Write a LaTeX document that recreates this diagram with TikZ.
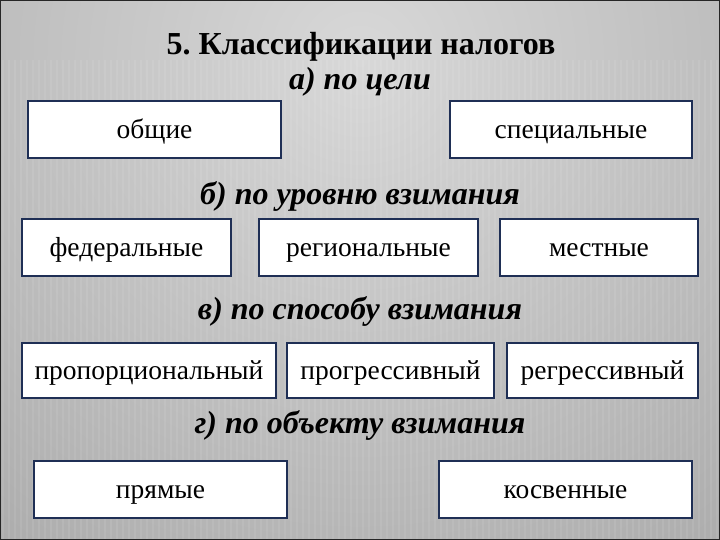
\documentclass[tikz,border=0pt]{standalone}
\usepackage{fontspec}
\setmainfont{Liberation Serif}
\frenchspacing
\definecolor{boxline}{HTML}{1F2F55}
\definecolor{bglight}{HTML}{D8D8D8}
\definecolor{bgdark}{HTML}{AAAAAA}
\tikzset{
  kind/.style={draw=boxline, line width=1.6pt, fill=white,
    font=\fontsize{27.5}{30}\selectfont, text height=18pt, text depth=0pt,
    inner sep=0pt},
  criterion/.style={font=\bfseries\itshape\fontsize{32}{34}\selectfont, anchor=base},
}
\begin{document}
\begin{tikzpicture}[x=1pt, y=-1pt]
    % background
    \begin{scope}
      \clip (0,0) rectangle (720,540);
      \shade[inner color=bglight, outer color=bgdark] (360,60) circle (640);
      \foreach \x in {3,9,...,720}
        \draw[white, opacity=0.08, line width=1.5pt] (\x,60) -- (\x,540);
    \end{scope}
    \draw[gray!30!black, line width=1.2pt] (0.6,0.6) rectangle (719.4,539.4);
    \useasboundingbox (0,0) rectangle (720,540);

    \node [font=\bfseries\fontsize{32}{34}\selectfont, anchor=base] (title) at (361,55) {5. Классификации налогов};
    \node [criterion] (goal) at (360,90) {а) по цели};

    \node [kind, minimum width=253pt, minimum height=57pt] (general) at (154.5,129.5) {общие};
    \node [kind, minimum width=242pt, minimum height=57pt] (special) at (571,129.5) {специальные};

    \node [criterion] (level) at (360,205) {б) по уровню взимания};

    \node [kind, minimum width=209pt, minimum height=57pt] (federal) at (126.5,247.5) {федеральные};
    \node [kind, minimum width=219pt, minimum height=57pt] (regional) at (368.5,247.5) {региональные};
    \node [kind, minimum width=198pt, minimum height=57pt] (local) at (599,247.5) {местные};

    \node [criterion] (method) at (360,319) {в) по способу взимания};

    \node [kind, minimum width=254pt, minimum height=55pt] (proportional) at (149,370.5) {пропорциональный};
    \node [kind, minimum width=207pt, minimum height=55pt] (progressive) at (390.5,370.5) {прогрессивный};
    \node [kind, minimum width=191pt, minimum height=55pt] (regressive) at (602.5,370.5) {регрессивный};

    \node [criterion] (object) at (360,433) {г) по объекту взимания};

    \node [kind, minimum width=253pt, minimum height=57pt] (direct) at (160.5,489.5) {прямые};
    \node [kind, minimum width=253pt, minimum height=57pt] (indirect) at (565.5,489.5) {косвенные};
\end{tikzpicture}
\end{document}
